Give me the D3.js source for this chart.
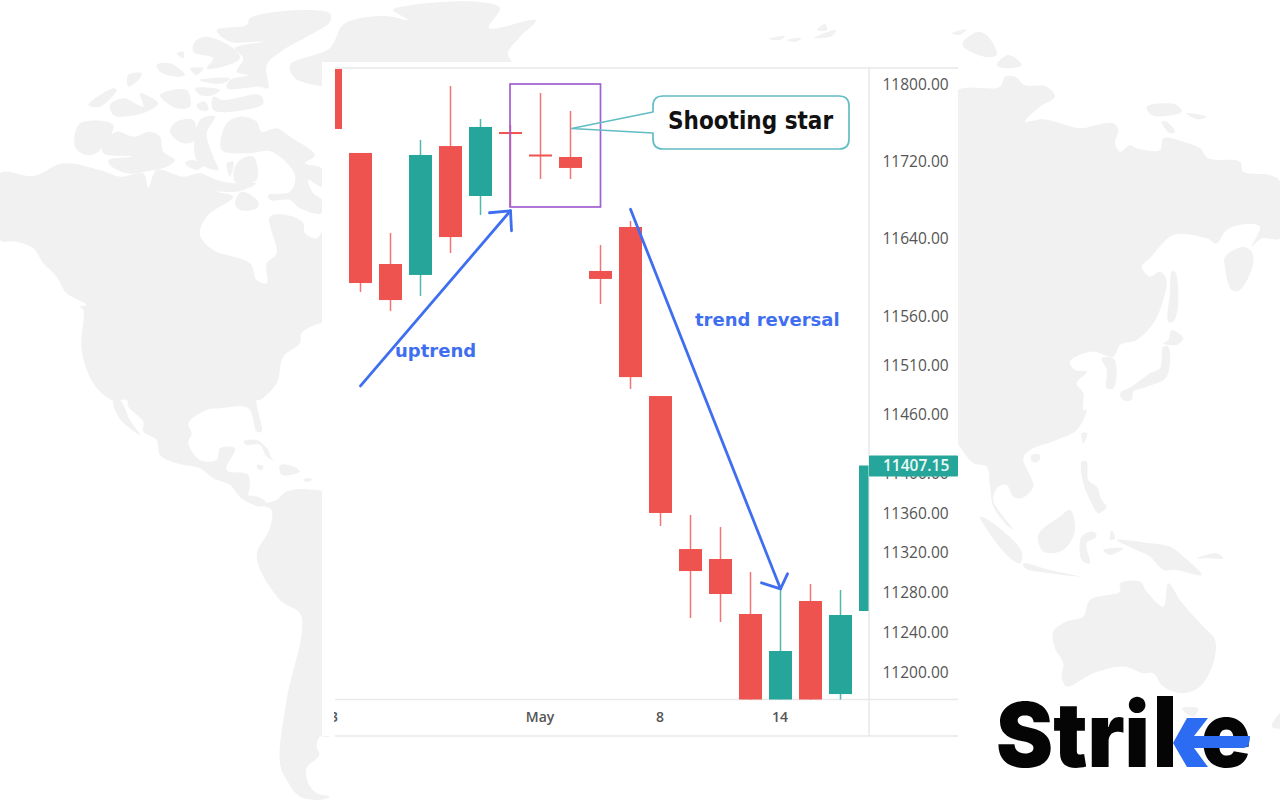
<!DOCTYPE html>
<html>
<head>
<meta charset="utf-8">
<title>Shooting star</title>
<script src="https://cdn.jsdelivr.net/npm/d3@7"></script>
<style>
  html, body { margin: 0; padding: 0; background: #fff; }
  svg { display: block; }
</style>
</head>
<body>
<svg id="chart" width="1280" height="800"></svg>
<script>
// Trading sessions along the time axis and the labels the axis shows
const sessions = ["23","24","25","26","27","28","30","May","2","3","7","8","9","10","11","14","15","16","17"];
const shownSessions = ["23","May","8","14"];

// Daily prices per session
const open  = [11815.7,11728.0,11613.0,11601.7,11735.2,11683.3,11749.8,11726.4,11723.8,11605.8,11651.2,11477.7,11322.9,11312.9,11257.8,11160.0,11270.8,11178.1,11260.8];
const high  = [11815.7,11728.0,11645.0,11741.5,11797.9,11763.4,11757.1,11790.6,11771.8,11632.6,11657.4,11477.7,11357.1,11345.0,11299.8,11284.8,11287.8,11281.8,11407.15];
const low   = [11753.0,11584.2,11564.7,11580.1,11624.3,11663.6,11671.9,11700.9,11700.9,11571.8,11484.9,11346.1,11253.8,11249.8,11160.0,11160.0,11160.0,11172.1,11260.8];
const close = [11753.0,11593.4,11575.9,11725.9,11640.8,11755.1,11747.7,11724.3,11712.4,11597.6,11497.0,11359.2,11300.8,11277.8,11160.0,11220.9,11160.0,11256.8,11407.15];

// Price axis labels and the last traded price
const priceTicks = [11800,11720,11640,11560,11510,11460,11400,11360,11320,11280,11240,11200];
const lastPrice = 11407.15;

// Trend arrows, given as session and price at each end
const upTrend = [["24", 11488], ["30", 11668]];
const downTrend = [["7", 11669.5], ["14", 11283]];

// Continents behind the chart, outlined at three times page scale
const westLand = [
  [[0,520],[100,528],[190,490],[300,510],[360,530],[430,520],[445,562],[470,510],[550,530],[600,520],[650,540],[700,550],[770,550],[710,575],[650,575],[700,590],[620,650],[600,705],[640,750],[750,790],[770,840],[800,850],[800,790],[830,760],[810,650],[880,650],[910,670],[915,700],[950,715],[968,690],[990,660],[990,970],[960,970],[905,1000],[900,1030],[850,1070],[830,1150],[780,1200],[770,1200],[785,1295],[770,1295],[745,1225],[660,1225],[620,1230],[565,1270],[575,1300],[565,1330],[600,1380],[650,1380],[660,1345],[705,1345],[680,1410],[745,1425],[740,1490],[720,1490],[690,1455],[640,1435],[600,1405],[530,1390],[480,1365],[470,1320],[430,1295],[430,1265],[385,1220],[380,1200],[335,1200],[280,1150],[245,1050],[250,930],[240,920],[260,915],[200,880],[170,830],[130,790],[100,745],[50,725],[0,720]],
  [[340,1200],[355,1250],[410,1300],[420,1305],[390,1260],[360,1200]],
  [[720,1490],[780,1520],[800,1510],[770,1490]],
  [[830,1500],[860,1475],[920,1468],[990,1490],[990,2208],[960,2210],[950,2240],[958,2265],[920,2305],[925,2350],[950,2380],[990,2390],[960,2400],[900,2390],[860,2340],[840,2290],[860,2100],[905,1900],[900,1840],[840,1800],[770,1670],[810,1585],[815,1530],[790,1515]],
  [[730,1325],[770,1320],[805,1350],[815,1375],[830,1385],[800,1370],[780,1335],[740,1335]],
  [[840,1395],[880,1400],[900,1415],[845,1425]],
  [[772,1395],[790,1398],[785,1410],[772,1406]],
  [[912,1437],[935,1437],[930,1445],[912,1444]],
  [[665,450],[680,370],[720,350],[770,365],[785,395],[830,385],[870,410],[945,465],[915,490],[965,505],[966,560],[925,540],[940,580],[966,600],[966,640],[900,625],[870,600],[810,600],[805,585],[870,575],[885,525],[815,455],[745,460]],
  [[310,430],[350,395],[400,410],[450,395],[480,410],[490,455],[525,480],[500,500],[435,515],[380,520],[330,495],[325,480],[395,470],[310,460]],
  [[240,370],[340,375],[295,455],[260,465],[225,440]],
  [[510,395],[530,365],[580,360],[585,420],[550,430]],
  [[590,480],[600,360],[645,350],[620,400],[640,470],[655,510]],
  [[555,490],[575,480],[610,495],[590,510]],
  [[680,490],[700,485],[690,530]],
  [[720,480],[760,470],[770,540],[710,550],[700,520]],
  [[705,610],[725,575],[775,605],[770,625],[720,630]],
  [[265,315],[340,265],[350,270],[300,320]],
  [[330,315],[370,295],[430,320],[420,280],[475,310],[440,335],[370,350],[340,345]],
  [[385,225],[425,220],[420,235],[385,260]],
  [[480,285],[560,270],[570,320],[530,325]],
  [[590,315],[615,305],[625,330],[600,330]],
  [[640,290],[670,300],[780,285],[790,310],[760,325],[640,330]],
  [[585,265],[660,270],[640,285],[600,285]],
  [[650,90],[740,75],[750,55],[830,35],[990,40],[990,65],[930,105],[850,150],[800,195],[805,265],[780,260],[680,265],[690,240],[745,225],[710,215],[730,175],[705,145],[790,125],[690,125]],
  [[585,125],[620,110],[700,145],[720,175],[650,205],[620,205],[640,175],[580,155]],
  [[470,195],[510,190],[555,225],[530,230],[480,215]],
  [[530,160],[550,155],[550,175]],
  [[570,205],[610,205],[590,225]],
  [[600,240],[690,235],[670,250],[610,245]],
  // Greenland
  [[870,195],[990,144],[1032,72],[1155,48],[1224,60],[1179,30],[1236,15],[1437,6],[1500,24],[1467,84],[1608,60],[1560,111],[1524,159],[1536,200],[990,260],[965,258],[920,250],[885,235]],
  // Svalbard and neighbouring islands
  [[2307,117],[2355,108],[2340,120]],[[2451,90],[2475,72],[2481,90]],[[2361,120],[2406,114],[2385,126]],[[2442,114],[2508,90],[2496,108]]
];
const eastLand = [
  [[0,285],[150,260],[165,230],[195,230],[225,255],[290,260],[315,290],[270,320],[225,365],[280,358],[365,380],[395,385],[440,375],[490,370],[505,390],[495,430],[510,455],[540,435],[560,445],[630,450],[640,415],[700,425],[750,445],[775,475],[870,485],[880,515],[960,525],[990,545],[990,715],[935,715],[905,740],[930,680],[890,672],[830,690],[800,730],[770,715],[670,705],[600,775],[575,800],[600,830],[630,815],[650,840],[640,900],[610,970],[560,1020],[510,1035],[490,1070],[425,1055],[360,1085],[375,1110],[410,1115],[380,1150],[400,1180],[400,1230],[410,1230],[380,1290],[320,1320],[240,1350],[220,1375],[250,1460],[215,1495],[190,1490],[170,1455],[145,1460],[130,1500],[160,1550],[190,1590],[175,1580],[130,1520],[120,1460],[110,1400],[70,1390],[22,1330],[0,1300]],
  [[455,1075],[490,1075],[500,1110],[490,1165],[470,1165],[470,1110]],
  [[510,1180],[545,1160],[600,1120],[630,1105],[640,1040],[655,1040],[650,1130],[590,1160],[550,1175],[545,1200],[520,1200]],
  [[655,1020],[665,990],[700,1015],[680,1035],[640,1030]],
  [[665,815],[675,815],[685,910],[670,965],[655,965],[660,880]],
  [[825,770],[880,740],[905,755],[910,790],[870,870],[845,870],[825,800]],
  [[40,125],[85,95],[115,110],[140,165],[105,170],[40,140]],
  [[140,195],[175,165],[215,195],[170,205]],
  [[590,320],[640,310],[680,315],[695,335],[650,348],[605,345]],
  [[710,340],[770,350],[740,358]],
  [[635,365],[650,365],[675,395],[660,400]],
  [[5,100],[50,88],[30,105]],
  [[395,1300],[412,1300],[400,1330]],
  [[395,1385],[410,1385],[415,1440],[440,1460],[455,1500],[470,1520],[445,1540],[420,1500],[400,1450]],
  [[265,1605],[330,1550],[360,1530],[375,1590],[340,1650],[280,1655]],
  [[90,1550],[130,1570],[215,1655],[210,1690],[170,1665]],
  [[220,1690],[300,1710],[390,1730],[300,1720],[225,1705]],
  [[395,1610],[430,1595],[440,1610],[410,1630],[420,1690],[395,1680]],
  [[500,1620],[600,1630],[660,1640],[700,1670],[755,1725],[680,1710],[640,1710],[600,1670],[560,1650]],
  [[740,1675],[800,1660],[820,1675],[770,1675]],
  [[460,1650],[520,1645],[480,1665]],
  [[485,1590],[495,1615],[480,1620]],
  [[245,1365],[270,1365],[265,1385],[245,1385]],
  // Australia
  [[310,1895],[350,1865],[400,1850],[420,1800],[510,1775],[510,1750],[570,1745],[590,1775],[640,1820],[655,1750],[690,1800],[710,1825],[760,1880],[795,1920],[790,1990],[750,2060],[700,2080],[640,2060],[610,2020],[580,2020],[520,2000],[430,2020],[350,2060],[335,2030],[340,1990],[315,1945]],
  [[695,2125],[745,2125],[730,2150]],
  [[965,2180],[990,2140],[990,2185]]
];

const colors = {
  up: "#26a69a", down: "#ef5350", map: "#f1f1f1", rule: "#e9e9e9",
  tickText: "#555555", trend: "#3f6ff0", box: "#a25fd0", callout: "#62bcc4", brand: "#2b6cf2"
};
const labelFont = "'Open Sans', sans-serif";
const noteFont = "'DejaVu Sans', sans-serif";

const svg = d3.select("#chart");

// Price scale is logarithmic, as set on the trading terminal
const y = d3.scaleLog().domain([11200, 11800]).range([672, 84]);
const x = d3.scalePoint().domain(sessions).range([330.5, 870.5]);

const plot = { left: 335, right: 868.5, top: 68, bottom: 699.5 };
const panel = { left: 322, right: 958, top: 62, bottom: 736 };
const candleWidth = 23;

// World map backdrop with softened coastlines
const outline = d3.line().curve(d3.curveCatmullRomClosed.alpha(0.5));
const map = svg.append("g").attr("fill", colors.map);
map.append("g").attr("transform", "scale(0.3333)")
  .selectAll("path").data(westLand).join("path")
  .attr("d", d => outline(d));
map.append("g").attr("transform", "translate(950,0) scale(0.3333)")
  .selectAll("path").data(eastLand).join("path")
  .attr("d", d => outline(d));

// Chart panel
svg.append("rect")
  .attr("x", panel.left).attr("y", panel.top)
  .attr("width", panel.right - panel.left).attr("height", panel.bottom - panel.top)
  .attr("fill", "#fff");

const rules = svg.append("g").attr("stroke", colors.rule).attr("stroke-width", 1.5);
rules.append("line").attr("x1", plot.left).attr("x2", panel.right).attr("y1", plot.top).attr("y2", plot.top);
rules.append("line").attr("x1", plot.left).attr("x2", panel.right).attr("y1", plot.bottom).attr("y2", plot.bottom);
rules.append("line").attr("x1", plot.left).attr("x2", panel.right).attr("y1", panel.bottom).attr("y2", panel.bottom);
rules.append("line").attr("x1", plot.right + 0.5).attr("x2", plot.right + 0.5).attr("y1", plot.top).attr("y2", panel.bottom);

const defs = svg.append("defs");
defs.append("clipPath").attr("id", "plot-clip").append("rect")
  .attr("x", plot.left).attr("y", plot.top - 8)
  .attr("width", plot.right - plot.left).attr("height", plot.bottom - plot.top + 8);
defs.append("clipPath").attr("id", "time-clip").append("rect")
  .attr("x", plot.left - 1).attr("y", plot.bottom)
  .attr("width", plot.right - plot.left).attr("height", panel.bottom - plot.bottom);

// Price axis
const priceAxis = d3.axisRight(y)
  .tickValues(priceTicks)
  .tickFormat(d3.format(".2f"))
  .tickSize(0)
  .tickPadding(14);
const priceG = svg.append("g")
  .attr("transform", `translate(${plot.right},1)`)
  .call(priceAxis);
priceG.select(".domain").remove();
priceG.selectAll("text")
  .attr("font-family", labelFont).attr("font-size", 15.5).attr("fill", colors.tickText);

// Time axis
const timeAxis = d3.axisBottom(x).tickValues(shownSessions).tickSize(0).tickPadding(13);
const timeG = svg.append("g")
  .attr("transform", `translate(-1,${plot.bottom})`)
  .call(timeAxis);
timeG.select(".domain").remove();
timeG.selectAll("text")
  .attr("font-family", labelFont).attr("font-size", 14).attr("font-weight", 600).attr("fill", colors.tickText);
svg.append("g").attr("clip-path", "url(#time-clip)").node().appendChild(timeG.node());

// Candles
const candles = sessions.map((s, i) => ({
  session: s, open: open[i], high: high[i], low: low[i], close: close[i]
}));
const candleG = svg.append("g").attr("clip-path", "url(#plot-clip)")
  .selectAll("g").data(candles).join("g")
  .attr("fill", d => d.close >= d.open ? colors.up : colors.down)
  .attr("stroke", d => d.close >= d.open ? colors.up : colors.down);
candleG.append("line")
  .attr("x1", d => x(d.session)).attr("x2", d => x(d.session))
  .attr("y1", d => y(d.high)).attr("y2", d => y(d.low))
  .attr("stroke-width", 1.5).attr("stroke-opacity", 0.8);
candleG.append("rect")
  .attr("x", d => x(d.session) - candleWidth / 2)
  .attr("width", candleWidth)
  .attr("y", d => y(Math.max(d.open, d.close)))
  .attr("height", d => Math.abs(y(d.open) - y(d.close)))
  .attr("stroke", "none");

// Last price tag
const lastY = y(lastPrice);
svg.append("rect")
  .attr("x", plot.right + 0.5).attr("y", lastY - 10)
  .attr("width", panel.right - plot.right - 0.5).attr("height", 21)
  .attr("rx", 1).attr("fill", colors.up);
svg.append("text")
  .attr("x", 883).attr("y", lastY).attr("dy", "0.36em")
  .attr("font-family", labelFont).attr("font-size", 15.5).attr("font-weight", 600)
  .attr("fill", "#eafaf8").text(d3.format(".2f")(lastPrice));

// Shooting star box around the three sessions
svg.append("rect")
  .attr("x", 510).attr("y", y(11800))
  .attr("width", 90.5).attr("height", y(11671.9) - y(11800))
  .attr("fill", "none").attr("stroke", colors.box).attr("stroke-width", 1.7);

// Callout
const tip = [x("3") - 29, y(11753.5)];
svg.append("path")
  .attr("d", "M653,112 V106 Q653,96 663,96 H839 Q849,96 849,106 V139 Q849,149 839,149 H663 Q653,149 653,139 V133 L" + tip[0] + "," + tip[1] + " Z")
  .attr("fill", "none").attr("stroke", colors.callout).attr("stroke-width", 1.7).attr("stroke-linejoin", "round");
svg.append("text")
  .attr("x", 750.5).attr("y", 129).attr("text-anchor", "middle")
  .attr("font-family", noteFont).style("font-stretch", "condensed")
  .attr("font-weight", 700).attr("font-size", 24)
  .attr("fill", "#111").text("Shooting star");

// Trend arrows
function arrow(ends, headA, headB) {
  const g = svg.append("g").attr("fill", "none").attr("stroke", colors.trend)
    .attr("stroke-width", 2.8).attr("stroke-linecap", "round").attr("stroke-linejoin", "round");
  const a = [x(ends[0][0]), y(ends[0][1])];
  const b = [x(ends[1][0]), y(ends[1][1])];
  g.append("path").attr("d", d3.line()([a, b]));
  g.append("path").attr("d", d3.line()([[b[0] + headA[0], b[1] + headA[1]], b, [b[0] + headB[0], b[1] + headB[1]]]));
}
arrow(upTrend, [-21, 2], [1, 20]);
arrow(downTrend, [-19, -6], [7, -15]);

svg.append("text")
  .attr("x", 395).attr("y", 357)
  .attr("font-family", noteFont).attr("font-weight", 700).attr("font-size", 18)
  .attr("fill", colors.trend).text("uptrend");
svg.append("text")
  .attr("x", 695).attr("y", 326)
  .attr("font-family", noteFont).attr("font-weight", 700).attr("font-size", 18)
  .attr("fill", colors.trend).text("trend reversal");

// Brand mark: the k's arms and the e's bar form a blue arrow
const brand = svg.append("g");
const word = brand.append("text")
  .attr("y", 767)
  .attr("font-family", "Inter, sans-serif").attr("font-weight", 900).attr("font-size", 90)
  .attr("fill", "#050505");
word.append("tspan").attr("x", 996).attr("textLength", 154).attr("lengthAdjust", "spacingAndGlyphs").text("Stri");
word.append("tspan").attr("fill", "none").attr("font-size", 1).text("k");
word.append("tspan").attr("x", 1201).attr("textLength", 50).attr("lengthAdjust", "spacingAndGlyphs").text("e");
brand.append("rect").attr("x", 1157).attr("y", 696).attr("width", 16).attr("height", 71).attr("fill", "#050505");
brand.append("path").attr("fill", colors.brand)
  .attr("d", "M1187,718 L1208,718 L1194,736 L1250,736 Q1250,748 1244,748 L1194,748 L1208,767 L1187,767 L1173,743 Z");
</script>
</body>
</html>
